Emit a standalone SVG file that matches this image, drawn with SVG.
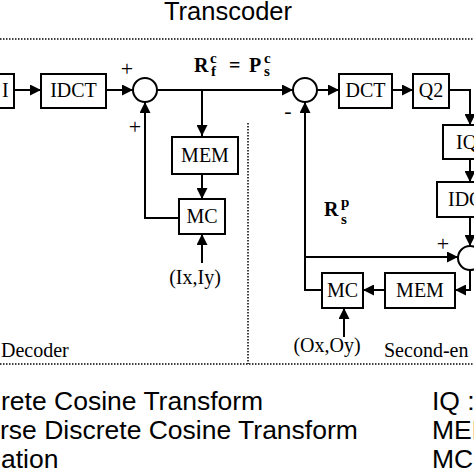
<svg xmlns="http://www.w3.org/2000/svg" width="474" height="474" viewBox="0 0 474 474">
<defs>
<marker id="ah" viewBox="0 0 10 10" refX="10" refY="5" markerWidth="12" markerHeight="11" markerUnits="userSpaceOnUse" orient="auto">
<path d="M0,0 L10,5 L0,10 z" fill="#000"/>
</marker>
</defs>
<style>
.box{fill:#fff;stroke:#000;stroke-width:2}
.sum{fill:#fff;stroke:#000;stroke-width:2}
.lbl{font-family:"Liberation Serif","Times New Roman",serif;font-size:20px;fill:#000}
.pm{font-family:"Liberation Serif","Times New Roman",serif;font-size:22px;fill:#000;text-anchor:middle}
.mid{text-anchor:middle}
.math{font-family:"Liberation Serif","Times New Roman",serif;font-weight:bold;fill:#000}
.sans{font-family:"Liberation Sans",Arial,sans-serif;fill:#000}
.dot{fill:none;stroke:#000;stroke-width:1.5;stroke-dasharray:1.5 1.5}
.con path{fill:none;stroke:#000;stroke-width:2;marker-end:url(#ah)}
</style>
<rect width="474" height="474" fill="#fff"/>
<text class="sans" x="228" y="20" font-size="25.5" text-anchor="middle">Transcoder</text>
<g id="frame">
<path class="dot" d="M0,39 H474"/>
<path class="dot" d="M0,364 H474"/>
<path class="dot" d="M248,123 V364"/>
</g>
<g class="con" id="connectors">
<path d="M14,90 H41"/>
<path d="M106,90 H133"/>
<path d="M157,90 H293"/>
<path d="M202,90 V136"/>
<path d="M202,174 V199"/>
<path d="M179,218 H145 V102"/>
<path d="M202,263 V234"/>
<path d="M317,90 H339"/>
<path d="M392,90 H413"/>
<path d="M449,90 H470 V125"/>
<path d="M470,159 V182"/>
<path d="M470,217 V246"/>
<path d="M470,270 V290 H455"/>
<path d="M385,290 H363"/>
<path d="M322,290 H305 V102"/>
<path d="M305,257 H458"/>
<path d="M344,337 V308"/>
</g>
<g id="in-box"><rect class="box" x="-10" y="74" width="24" height="34"/><text class="lbl" x="2" y="97">I</text></g>
<g id="idct1"><rect class="box" x="41" y="74" width="65" height="34"/><text class="lbl mid" x="73.5" y="97">IDCT</text></g>
<g id="sum1"><circle class="sum" cx="145" cy="90" r="12"/><text class="pm" x="127" y="76">+</text><text class="pm" x="135" y="134">+</text></g>
<g id="mem1"><rect class="box" x="172" y="137" width="66" height="37"/><text class="lbl mid" x="205" y="162">MEM</text></g>
<g id="mc1"><rect class="box" x="179" y="199" width="46" height="35"/><text class="lbl mid" x="202" y="223">MC</text></g>
<text class="lbl mid" x="195" y="284">(Ix,Iy)</text>
<text class="lbl" x="1" y="357">Decoder</text>
<g id="label-rf">
<text class="math" x="194" y="72" font-size="20">R</text>
<text class="math" x="210" y="63" font-size="15">c</text>
<text class="math" x="211" y="76" font-size="15">f</text>
<text class="math" x="229" y="72" font-size="20">=</text>
<text class="math" x="249" y="72" font-size="20">P</text>
<text class="math" x="264" y="63" font-size="15">c</text>
<text class="math" x="264" y="76" font-size="15">s</text>
</g>
<g id="sum2"><circle class="sum" cx="305" cy="90" r="12"/><text class="pm" x="288" y="118">-</text></g>
<g id="dct"><rect class="box" x="339" y="74" width="53" height="34"/><text class="lbl mid" x="365.5" y="97">DCT</text></g>
<g id="q2"><rect class="box" x="413" y="74" width="36" height="34"/><text class="lbl mid" x="431" y="97">Q2</text></g>
<g id="iq"><rect class="box" x="443" y="125" width="50" height="34"/><text class="lbl" x="456" y="149">IQ</text></g>
<g id="idct2"><rect class="box" x="437" y="182" width="56" height="35"/><text class="lbl" x="448" y="206">IDC</text></g>
<g id="sum3"><circle class="sum" cx="470" cy="258" r="12"/><text class="pm" x="443" y="251">+</text></g>
<g id="label-rs">
<text class="math" x="324" y="216" font-size="20">R</text>
<text class="math" x="341" y="207" font-size="15">p</text>
<text class="math" x="341" y="224" font-size="15">s</text>
</g>
<g id="mem2"><rect class="box" x="385" y="273" width="70" height="35"/><text class="lbl mid" x="420" y="297">MEM</text></g>
<g id="mc2"><rect class="box" x="322" y="273" width="41" height="35"/><text class="lbl mid" x="342.5" y="297">MC</text></g>
<text class="lbl mid" x="327" y="352">(Ox,Oy)</text>
<text class="lbl" x="384" y="357">Second-en</text>
<g id="legend" class="sans" font-size="26.5">
<text x="1" y="410">rete Cosine Transform</text>
<text x="0" y="439">rse Discrete Cosine Transform</text>
<text x="1" y="468">ation</text>
<text x="432" y="410">IQ :</text>
<text x="432" y="439">MEM</text>
<text x="432" y="468">MC</text>
</g>
</svg>
